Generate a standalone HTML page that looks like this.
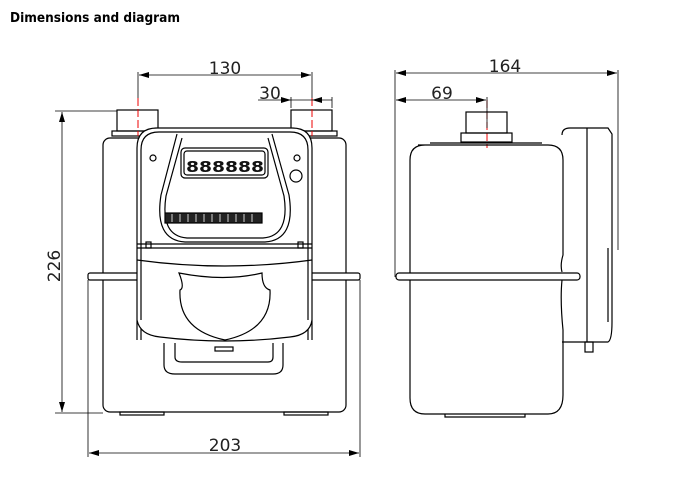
<!DOCTYPE html>
<html><head><meta charset="utf-8"><style>
html,body{margin:0;padding:0;background:#fff;width:689px;height:487px;overflow:hidden}
svg{display:block}
text{font-family:"DejaVu Sans","Liberation Sans",sans-serif}
</style></head><body>
<svg width="689" height="487" viewBox="0 0 689 487" xmlns="http://www.w3.org/2000/svg">
<text x="10" y="22" font-size="13" font-weight="bold" font-family="Liberation Sans, sans-serif" textLength="170" lengthAdjust="spacingAndGlyphs">Dimensions and diagram</text>
<defs>
<marker id="a" viewBox="0 0 10 6" refX="10" refY="3" markerWidth="10" markerHeight="6" orient="auto-start-reverse" markerUnits="userSpaceOnUse"><path d="M0,0 L10,3 L0,6z" fill="#000"/></marker>
</defs>
<g fill="none" stroke="#000" stroke-width="1.2">
<!-- FRONT VIEW -->
<rect x="117" y="110" width="41" height="21"/>
<rect x="112" y="131" width="51" height="5"/>
<rect x="291" y="110" width="41" height="21"/>
<rect x="286" y="131" width="51" height="5"/>
<rect x="103" y="138" width="243" height="274" rx="7"/>
<rect x="120" y="412" width="44" height="3"/>
<rect x="284" y="412" width="44" height="3"/>
<rect x="88" y="273" width="272" height="7" rx="2" fill="#fff"/>
<path d="M137,340 L137,148 Q137,128 157,128 L292,128 Q312,128 312,148 L312,340" fill="#fff"/>
<path d="M141,340 L141,150 Q141,132 159,132 L290,132 Q308,132 308,150 L308,340"/>
<path d="M177,134 L161,195 Q154,240 185,242 L265,242 Q296,240 289,195 L272,134"/>
<path d="M182,138 L166,196 Q160,236 187,238 L263,238 Q290,236 284,196 L268,138"/>
<rect x="181" y="148" width="87" height="30" rx="4"/>
<rect x="184" y="151" width="81" height="24" rx="3"/>
<circle cx="153" cy="158" r="3"/><circle cx="297" cy="158" r="3"/>
<circle cx="296" cy="176" r="6"/>
<rect x="165" y="213" width="97" height="10" fill="#222"/>
<path d="M137,244 L312,244 M137,248 L312,248" />
<rect x="146" y="242" width="5" height="6"/><rect x="298" y="242" width="5" height="6"/>
<path d="M137,260 Q225,272 312,260"/>
<path d="M137,320 Q140,335 160,337 Q225,345 290,337 Q310,335 312,320" fill="#fff"/>
<path d="M179,273 Q225,282 262,273 Q262,288 270,290 Q272,330 225,340 Q178,330 180,290 Q185,288 179,273z"/>
<path d="M164,343 L164,365 Q164,374 175,374 L273,374 Q283,374 283,365 L283,343"/>
<path d="M175,343 L175,357 Q175,362 182,362 L268,362 Q273,362 273,357 L273,343"/>
<rect x="215" y="347" width="18" height="4"/>
</g>
<g font-family="Liberation Mono, DejaVu Sans Mono, monospace" font-size="15" font-weight="bold" fill="#111">
<text x="186" y="172" textLength="78" lengthAdjust="spacingAndGlyphs">888888</text>
</g>
<g stroke="#fff" stroke-width="0.8">
<path d="M172,214v8M180,214v8M188,214v8M196,214v8M204,214v8M212,214v8M220,214v8M228,214v8M236,214v8M244,214v8M252,214v8"/>
</g>
<g stroke="#e00" stroke-width="1" stroke-dasharray="8,3">
<path d="M138,98 V136 M312,98 V136 M487,100 V148"/>
</g>
<g stroke="#000" stroke-width="0.8" fill="none">
<path d="M138,72 V98 M312,72 V98"/>
<path d="M139,75 H311" marker-start="url(#a)" marker-end="url(#a)"/>
<path d="M291,97 V108 M332,97 V108"/>
<path d="M258,100 H291" marker-end="url(#a)"/>
<path d="M332,100 H312" marker-end="url(#a)"/>
<path d="M312,100 H291"/>
<path d="M55,111 H117 M55,413 H103"/>
<path d="M62,112 V412" marker-start="url(#a)" marker-end="url(#a)"/>
<path d="M88,280 V457 M360,280 V457"/>
<path d="M89,453 H359" marker-start="url(#a)" marker-end="url(#a)"/>
<path d="M395,70 V277 M618,70 V250 M487,97 V128"/>
<path d="M396,73 H617" marker-start="url(#a)" marker-end="url(#a)"/>
<path d="M396,100 H486" marker-start="url(#a)" marker-end="url(#a)"/>
</g>
<g font-size="17" fill="#222">
<text x="225" y="74" text-anchor="middle">130</text>
<text x="270" y="99" text-anchor="middle">30</text>
<text x="225" y="451" text-anchor="middle">203</text>
<text x="505" y="72" text-anchor="middle">164</text>
<text x="442" y="99" text-anchor="middle">69</text>
<text transform="translate(60,266) rotate(-90)" text-anchor="middle">226</text>
</g>
<g fill="none" stroke="#000" stroke-width="1.2">
<rect x="466" y="112" width="41" height="21"/>
<rect x="461" y="133" width="51" height="9"/>
<path d="M430,143 H542"/>
<path d="M418,145 L548,145 Q563,145 563,160 L563,255 Q560,265 562,272 M562,280 Q560,300 563,330 L563,395 Q563,414 548,414 L425,414 Q410,414 410,398 L410,160 Q410,145 425,145"/>
<path d="M445,414 V417 H525 V414"/>
<rect x="396" y="273" width="184" height="7" rx="3" fill="#fff"/>
<path d="M562,135 Q562,128 570,128 L608,128 L612,134 L612,322 Q612,340 608,342 L562,342"/>
<path d="M587,128 V342 M608,248 V322"/>
<rect x="585" y="342" width="8" height="10"/>
</g>
</svg>
</body></html>
